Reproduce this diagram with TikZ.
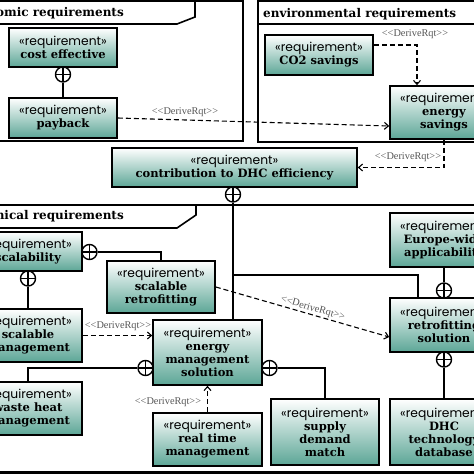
\documentclass[tikz,border=0pt]{standalone}
\usepackage{fontspec}
\setmainfont{DejaVu Serif}
\newfontfamily\stereofont{Poppins}
\newfontfamily\drvfont{Liberation Serif}
\usetikzlibrary{arrows.meta}
\definecolor{reqteal}{RGB}{92,166,150}
\definecolor{drvgray}{RGB}{85,85,85}
\def\s{1pt}
\def\px#1#2{({(#1)*\s},{-(#2)*\s})}
\newcommand{\req}[1]{{\stereofont\mdseries\fontsize{12.3}{13}\selectfont «requirement»}\\#1}
\def\drv{<\kern0pt<DeriveRqt>\kern0pt>}
\tikzset{
	reqbox/.style={draw,line width=1.6pt,top color=white,bottom color=reqteal,
		minimum width=108pt,inner sep=1pt,align=center,font=\fontsize{11.5}{13}\selectfont\bfseries},
	plusnode/.style={circle,draw,fill=white,line width=1.4pt,minimum size=15pt,inner sep=0pt,
		path picture={\draw[line width=1.4pt] (path picture bounding box.north) -- (path picture bounding box.south)
			(path picture bounding box.west) -- (path picture bounding box.east);}},
	frame/.style={line width=1.6pt},
	title/.style={font=\fontsize{12}{13}\selectfont\bfseries,inner sep=0pt},
	comp/.style={line width=1.4pt},
	derive/.style={->,line width=1.1pt,dash pattern=on 5pt off 3pt},
	drvlabel/.style={font=\drvfont\fontsize{10.3}{11}\selectfont,text=drvgray,inner sep=1pt}
}

\begin{document}
\begin{tikzpicture}[>={Straight Barb[length=4pt,width=7pt]}]
\useasboundingbox \px{0}{0} rectangle \px{474}{474};
\clip \px{0}{0} rectangle \px{474}{474};

% package frames
\draw[frame] \px{-5}{1} rectangle \px{243}{141};
\draw[frame] \px{-5}{24} -- \px{177}{24} -- \px{195}{17} -- \px{195}{1};
\node[title,anchor=east] (tEco) at \px{124}{13} {economic requirements};
\draw[frame] \px{258}{1} rectangle \px{480}{142};
\draw[frame] \px{258}{24} -- \px{480}{24};
\node[title,anchor=west] (tEnv) at \px{263}{14} {environmental requirements};
\draw[frame] \px{-5}{205} rectangle \px{480}{472};
\draw[frame] \px{-5}{228} -- \px{177}{228} -- \px{196}{215} -- \px{196}{205};
\node[title,anchor=east] (tTech) at \px{124}{216} {technical requirements};
\draw[line width=3pt] \px{-5}{472} -- \px{480}{472};

% requirements
\node[reqbox,minimum height=39pt] (cost) at \px{63}{47.5} {\req{cost effective}};
\node[reqbox,minimum height=40pt] (payback) at \px{63}{118} {\req{payback}};
\node[reqbox,minimum height=40pt] (co2) at \px{319}{55} {\req{CO2 savings}};
\node[reqbox,minimum height=53pt] (esav) at \px{444}{112.5} {\req{energy\\savings}};
\node[reqbox,minimum height=39pt,minimum width=245pt] (contrib) at \px{234.5}{167.5} {\req{contribution to DHC efficiency}};
\node[reqbox,minimum height=39pt] (scal) at \px{28}{251.5} {\req{scalability}};
\node[reqbox,minimum height=52pt] (sretro) at \px{161}{287} {\req{scalable\\retrofitting}};
\node[reqbox,minimum height=53pt] (smgmt) at \px{28}{335.5} {\req{scalable\\management}};
\node[reqbox,minimum height=53pt] (waste) at \px{28}{408.5} {\req{waste heat\\management}};
\node[reqbox,minimum height=65pt,minimum width=109pt] (eng) at \px{207.5}{352.5} {\req{energy\\management\\solution}};
\node[reqbox,minimum height=53pt,minimum width=109pt] (rtm) at \px{207.5}{439.5} {\req{real time\\management}};
\node[reqbox,minimum height=66pt] (supply) at \px{325}{432} {\req{supply\\demand\\match}};
\node[reqbox,minimum height=66pt] (dhc) at \px{444}{432} {\req{DHC\\technology\\database}};
\node[reqbox,minimum height=54pt] (retro) at \px{444}{325} {\req{retrofitting\\solution}};
\node[reqbox,minimum height=54pt] (europe) at \px{444}{240} {\req{Europe-wide\\applicability}};

% containment
\node[plusnode] (pCost) at \px{63}{74.5} {};
\node[plusnode] (pContrib) at \px{233}{194.5} {};
\node[plusnode] (pScalR) at \px{89.5}{252} {};
\node[plusnode] (pScalB) at \px{28}{278.5} {};
\node[plusnode] (pEngL) at \px{145.5}{368} {};
\node[plusnode] (pEngR) at \px{269.5}{368} {};
\node[plusnode] (pRetT) at \px{444}{290.5} {};
\node[plusnode] (pRetB) at \px{444}{359.5} {};
\path \px{233}{275} coordinate (jC);

\draw[comp] (pCost.south) -- (payback.north);
\draw[comp] (pContrib.south) -- (eng.north -| pContrib);
\draw[comp] (jC) -| ([xshift=-26pt]retro.north);
\draw[comp] (pScalR.east) -| (sretro.north);
\draw[comp] (pScalB.south) -- (smgmt.north);
\draw[comp] (pEngL.west) -| (waste.north);
\draw[comp] (pEngR.east) -| (supply.north);
\draw[comp] (pRetT.north) -- (europe.south);
\draw[comp] (pRetB.south) -- (dhc.north);

% derivations
\draw[derive] ([yshift=10pt]co2.east) -| ([xshift=-27pt]esav.north);
\node[drvlabel] (lCo2) at \px{415}{34} {\drv};
\draw[derive] (payback.east) -- ([yshift=-13.5pt]esav.west);
\node[drvlabel] (lPay) at \px{185}{112} {\drv};
\draw[derive] (esav.south) |- (contrib.east);
\node[drvlabel] (lEsav) at \px{408}{157} {\drv};
\draw[derive] (sretro.east) -- ([yshift=-12pt]retro.west)
	node[drvlabel,pos=0.55,sloped,above] (lRetro) {\drv};
\draw[derive] (smgmt.east) -- (smgmt.east -| eng.west);
\node[drvlabel] (lSmgmt) at \px{118}{326} {\drv};
\draw[derive] (rtm.north) -- (eng.south);
\node[drvlabel] (lRtm) at \px{168}{402} {\drv};
\end{tikzpicture}
\end{document}
